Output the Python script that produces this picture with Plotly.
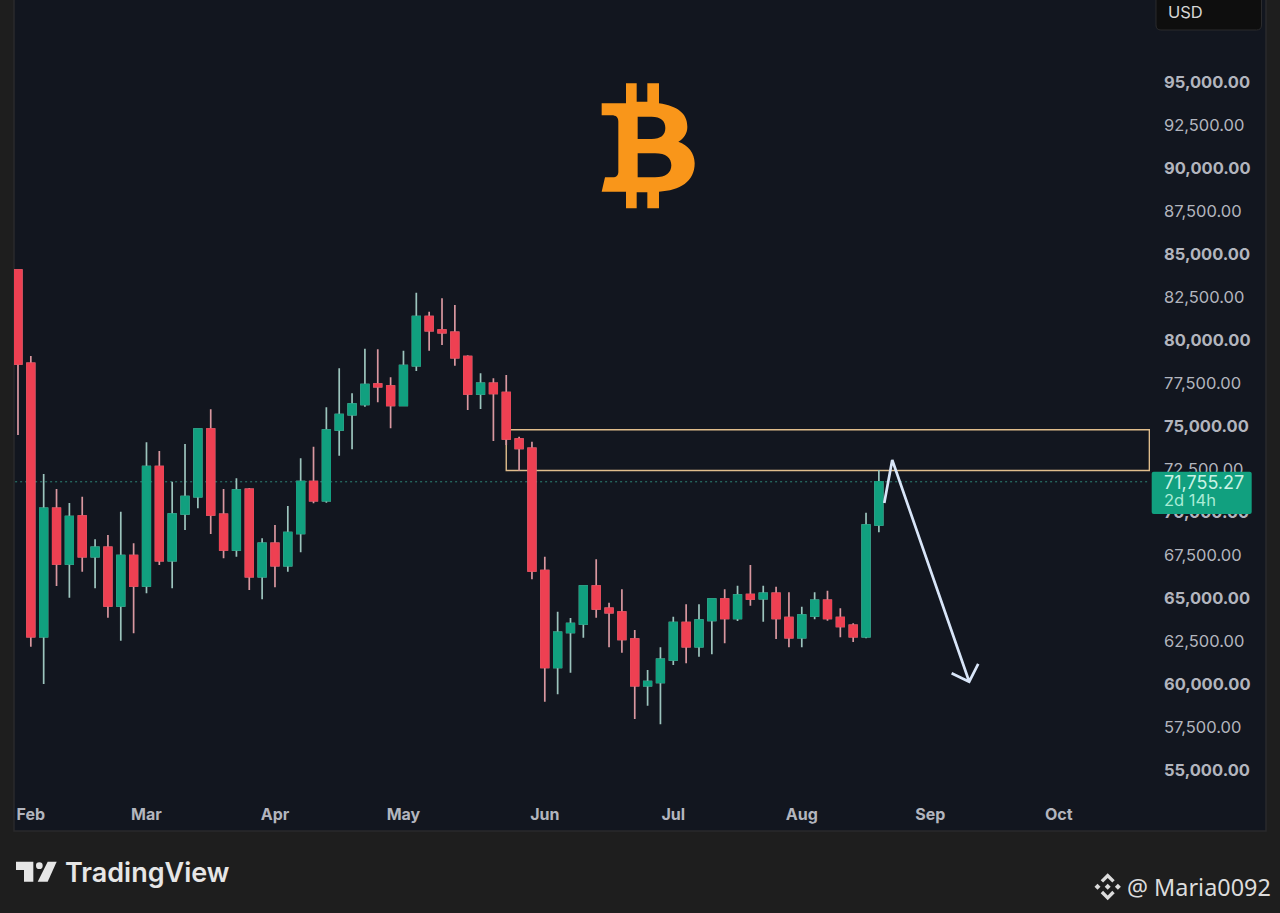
import plotly.graph_objects as go

# 3-day BTC/USD candles
opens = [84070,78645,62750,70215,66977,69767,67401,67947,64535,67459,65697,72634,67168,69884,70889,74825,69866,67790,71320,66238,68180,66878,68761,71761,70657,74767,75657,76260,77442,77325,76203,78506,81354,80581,80447,79029,76860,77482,76936,74244,73703,66588,60959,63006,63488,65697,64401,64186,62616,59901,60099,61395,63564,62168,63703,64942,63820,65192,64959,65273,63854,62692,63953,64866,63854,63413,62750,69244]
closes = [78605,62750,70215,66977,69726,67401,67947,64535,67459,65697,72634,67168,69884,70889,74825,69825,67790,71279,66238,68180,66878,68796,71761,70657,74767,75657,76279,77401,77285,76203,78506,81354,80541,80424,78971,76860,77482,76901,74244,73703,66570,60959,63006,63506,65697,64360,64145,62599,59901,60133,61436,63564,62168,63721,64942,63820,65174,64942,65273,63820,62692,64011,64866,63820,63354,62750,69244,71755.27]
highs = [84070,79070,72209,71337,70523,70889,68413,68663,70017,68180,74052,73546,71761,73953,74825,75971,71337,71959,71395,68471,69244,70349,73122,73796,76087,78355,76901,79494,79459,77831,79378,82750,81645,82424,82035,79110,78064,77773,77965,74378,74087,67401,64203,63837,65697,67250,64726,65506,63139,60814,62133,63913,64633,64633,64983,65506,65715,66918,65715,65657,65331,64494,65331,65424,64401,63530,69959,72442]
lows = [74477,62168,60000,65697,65017,66529,65564,63854,62517,62947,65273,66918,65564,68953,70215,68721,67308,67401,65465,64924,65622,66529,67657,70506,70541,73273,73645,76122,76378,74866,76203,78198,79378,79709,78506,75930,75988,74128,73895,72401,66087,58971,59401,60657,62692,63854,62133,61819,57965,58738,57657,61104,61203,61587,61727,62366,63663,64552,63622,62616,62133,62133,63761,63680,62715,62442,62657,68820]

month_labels = ["Feb","Mar","Apr","May","Jun","Jul","Aug","Sep","Oct"]
month_bars = [1,10,20,30,41,51,61,71,81]
price_ticks = [55000,57500,60000,62500,65000,67500,70000,72500,75000,77500,80000,82500,85000,87500,90000,92500,95000]
last_price = 71755.27
zone_low, zone_high = 72413, 74785
zone_start, zone_end = 38, 88.05
arrow_x = [67.42,68.04,74.03,72.66,74.03,74.73]
arrow_y = [70523,73023,60133,60622,60133,61163]

W, H = 1280, 913
UP, DOWN = "#11a07f", "#ee4052"
UP_W, DOWN_W = "#9cc4bd", "#d8979f"
PANEL, FRAME = "#12161f", "#1e1e1e"
bars = list(range(len(opens)))

fig = go.Figure()
fig.add_trace(go.Candlestick(x=bars, open=opens, high=highs, low=lows, close=closes, whiskerwidth=0,
    increasing=dict(line=dict(color=UP_W, width=1.7), fillcolor=UP),
    decreasing=dict(line=dict(color=DOWN_W, width=1.7), fillcolor=DOWN), hoverinfo="skip"))
fig.add_trace(go.Candlestick(x=bars, open=opens, close=closes,
    high=[max(a, b) for a, b in zip(opens, closes)], low=[min(a, b) for a, b in zip(opens, closes)],
    whiskerwidth=0,
    increasing=dict(line=dict(color=UP, width=1.7), fillcolor=UP),
    decreasing=dict(line=dict(color=DOWN, width=1.7), fillcolor=DOWN), hoverinfo="skip"))
fig.add_trace(go.Scatter(x=arrow_x, y=arrow_y, mode="lines", line=dict(color="#d8e5f8", width=2.7), hoverinfo="skip"))

def px(x): return f"{x/W:.5f}"
def py(y): return f"{1-y/H:.5f}"
def pth(cmds):
    out = []
    for c in cmds:
        if len(c) == 1:
            out.append("Z")
        else:
            v = c[1:]
            out.append(c[0] + " " + " ".join(f"{px(v[i])},{py(v[i+1])}" for i in range(0, len(v), 2)))
    return " ".join(out)
def ppath(cmds, fill, line=None, layer="above", lw=0):
    return dict(type="path", xref="paper", yref="paper", path=pth(cmds), fillcolor=fill,
                line=dict(color=line or fill, width=lw), layer=layer)
def rrect(x0, y0, x1, y1, r):
    return [("M", x0+r, y0), ("L", x1-r, y0), ("Q", x1, y0, x1, y0+r), ("L", x1, y1-r), ("Q", x1, y1, x1-r, y1),
            ("L", x0+r, y1), ("Q", x0, y1, x0, y1-r), ("L", x0, y0+r), ("Q", x0, y0, x0+r, y0), ("Z",)]
def zx(z): return 590 + z/3
def zy(z): return 70 + z/3
def B(*pts):
    return tuple(zx(p) if i % 2 == 0 else zy(p) for i, p in enumerate(pts))

btc = [("M",)+B(108,40), ("L",)+B(140,40), ("L",)+B(140,95), ("L",)+B(172,95), ("L",)+B(172,40), ("L",)+B(207,40),
       ("L",)+B(207,100), ("C",)+B(262,108,292,130,292,170), ("C",)+B(292,190,282,205,265,215),
       ("C",)+B(295,225,314,250,314,280), ("C",)+B(314,335,270,362,207,365), ("L",)+B(207,415), ("L",)+B(172,415),
       ("L",)+B(172,367), ("L",)+B(140,367), ("L",)+B(140,415), ("L",)+B(108,415), ("L",)+B(108,365), ("L",)+B(35,365),
       ("L",)+B(45,322), ("L",)+B(68,322), ("C",)+B(80,322,85,315,85,305), ("L",)+B(85,155), ("C",)+B(85,142,78,136,65,136),
       ("L",)+B(35,136), ("L",)+B(35,100), ("L",)+B(108,100), ("Z",),
       ("M",)+B(143,140), ("L",)+B(143,207), ("L",)+B(185,207), ("C",)+B(212,207,226,195,226,174), ("C",)+B(226,152,212,140,185,140), ("Z",),
       ("M",)+B(143,250), ("L",)+B(143,322), ("L",)+B(195,322), ("C",)+B(228,322,244,308,244,286), ("C",)+B(244,264,228,250,195,250), ("Z",)]

bnx, bny = 1107.7, 886.7
def diamond(cx, cy, r):
    return [("M", cx, cy-r), ("L", cx+r, cy), ("L", cx, cy+r), ("L", cx-r, cy), ("Z",)]
def chevron(s):
    return [("M", bnx, bny-s*13.5), ("L", bnx+7, bny-s*6.5), ("L", bnx+4.6, bny-s*4.1), ("L", bnx, bny-s*8.7),
            ("L", bnx-4.6, bny-s*4.1), ("L", bnx-7, bny-s*6.5), ("Z",)]
GREY = "#dcdcdc"
tvx = lambda z: z/3
tvy = lambda z: 780 + z/3
tv_t = [("M", tvx(48), tvy(245)), ("L", tvx(100), tvy(245)), ("L", tvx(100), tvy(305)), ("L", tvx(72), tvy(305)), ("L", tvx(72), tvy(270)), ("L", tvx(48), tvy(270)), ("Z",)]
tv_s = [("M", tvx(143), tvy(245)), ("L", tvx(170), tvy(245)), ("L", tvx(143), tvy(305)), ("L", tvx(113), tvy(305)), ("Z",)]

shapes = [
    dict(type="rect", xref="paper", yref="paper", x0=14/W, x1=1266/W, y0=1-831/H, y1=1.01, fillcolor=PANEL,
         line=dict(color="#2a2a2c", width=1.5), layer="below"),
    dict(type="rect", x0=zone_start, x1=zone_end, y0=zone_low, y1=zone_high, line=dict(color="#e0bd8c", width=1.4), layer="below"),
    dict(type="line", x0=-1, x1=zone_end, y0=last_price, y1=last_price, line=dict(color="#2d8577", width=1, dash="2px,3px"), layer="below"),
    ppath(rrect(1156, -6, 1261.5, 30, 5), "#0e0e0e", "#2b2b2d", lw=1),
    ppath(rrect(1151.7, 471.7, 1251.7, 514, 2), "#11a07f"),
    ppath(btc, "#f9961a"),
    ppath(tv_t, "#e6e6e6"), ppath(tv_s, "#e6e6e6"),
    dict(type="circle", xref="paper", yref="paper", x0=tvx(108)/W, x1=tvx(128)/W, y0=1-tvy(267)/H, y1=1-tvy(247)/H, fillcolor="#e6e6e6", line=dict(width=0)),
    ppath(diamond(bnx, bny, 3), GREY), ppath(diamond(bnx-10.2, bny, 3), GREY), ppath(diamond(bnx+10.2, bny, 3), GREY),
    ppath(chevron(1), GREY), ppath(chevron(-1), GREY),
]

def note(text, x, y, size, color, anchor="left", family="Inter", weight=400):
    return dict(text=text, xref="paper", yref="paper", x=x/W, y=1-y/H, xanchor=anchor, yanchor="middle", showarrow=False,
                font=dict(size=size, color=color, family=family, weight=weight))
annotations = [
    note("USD", 1166, 12.5, 16.5, "#d6d6d6"),
    note("71,755.27", 1161.5, 482, 18, "#c9f3e6"),
    note("2d 14h", 1161.5, 500, 16.5, "#a9ecd6"),
    note("TradingView", 63, 872, 27, "#e6e6e6", weight=600),
    note("@ Maria0092", 1125, 887, 23.4, "#dcdcdc", family="Noto Sans"),
]

ticktext = [(f"<b>{p:,.2f}</b>" if p % 5000 == 0 else f"{p:,.2f}") for p in price_ticks]
fig.update_layout(
    width=W, height=H, margin=dict(l=0, r=0, t=0, b=0), autosize=False, showlegend=False,
    paper_bgcolor=FRAME, plot_bgcolor="rgba(0,0,0,0)", boxgap=0.16, boxmode="overlay",
    shapes=shapes, annotations=annotations,
    xaxis=dict(domain=[14/W, 1150/W], range=[-0.31, 88.1], rangeslider=dict(visible=False), showgrid=False, zeroline=False,
               tickmode="array", tickvals=month_bars, ticktext=[f"<b>{m}</b>" for m in month_labels], ticks="", showline=False,
               tickfont=dict(family="Inter", size=16, color="#b2b5be"), ticklabelstandoff=5),
    yaxis=dict(domain=[1-798/H, 1], range=[53371, 99767], side="right", anchor="x", showgrid=False, zeroline=False, showline=False,
               tickmode="array", tickvals=price_ticks, ticktext=ticktext, ticks="",
               tickfont=dict(family="Inter", size=16.5, color="#b2b5be"), ticklabelstandoff=13),
)
fig.write_html("out.html", config=dict(displayModeBar=False),
               post_script="document.documentElement.style.overflow='hidden';document.body.style.margin='0';")
